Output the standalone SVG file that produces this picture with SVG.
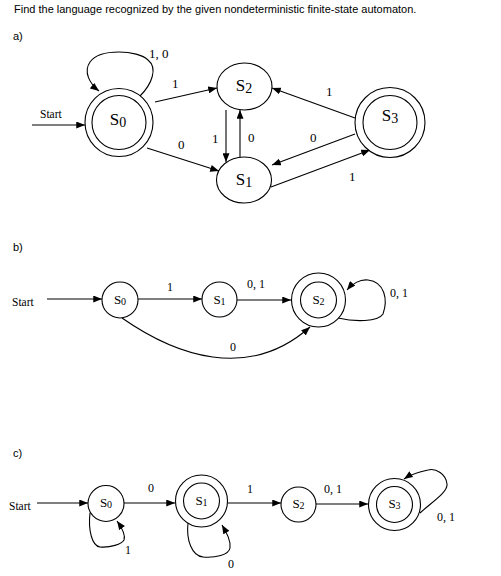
<svg xmlns="http://www.w3.org/2000/svg" width="501" height="576" viewBox="0 0 501 576">
<style>
.h{font-family:"Liberation Sans",Arial,sans-serif;font-size:11px;fill:#000}
.t{font-family:"Liberation Serif","Times New Roman",serif;fill:#000}
.la{font-size:17px}
.lb{font-size:13px}
.e{font-size:13px}
.es{font-size:12px}
.st{font-size:11.5px}
.n{fill:#fff;stroke:#000;stroke-width:1.1}
.c{fill:none;stroke:#000;stroke-width:1.1}
</style>
<defs>
<marker id="ar" viewBox="0 0 10 8" refX="10" refY="4" markerWidth="9" markerHeight="7" markerUnits="userSpaceOnUse" orient="auto">
<path d="M0,0 L10,4 L0,8 z" fill="#000"/>
</marker>
</defs>
<rect width="501" height="576" fill="#fff"/>
<text class="h" x="14" y="13">Find the language recognized by the given nondeterministic finite-state automaton.</text>
<text class="h" x="13" y="40">a)</text>
<text class="h" x="13" y="251">b)</text>
<text class="h" x="13" y="457">c)</text>

<g id="connectors">
<!-- part a -->
<path class="c" d="M32,125 L85,125" marker-end="url(#ar)"/>
<path class="c" d="M140,96 C152,84 158,68 148,60 C138,50 100,48 90,62 C83,72 90,84 99,91" marker-end="url(#ar)"/>
<path class="c" d="M155,102 L217,88" marker-end="url(#ar)"/>
<path class="c" d="M147,148 L219,171" marker-end="url(#ar)"/>
<path class="c" d="M226,110 L226,162" marker-end="url(#ar)"/>
<path class="c" d="M240,157 L240,110" marker-end="url(#ar)"/>
<path class="c" d="M355,118 L272,88" marker-end="url(#ar)"/>
<path class="c" d="M355,134 L272,165" marker-end="url(#ar)"/>
<path class="c" d="M271,187 L370,150" marker-end="url(#ar)"/>
<!-- part b -->
<path class="c" d="M47,299 L102,299" marker-end="url(#ar)"/>
<path class="c" d="M138,299 L202,299" marker-end="url(#ar)"/>
<path class="c" d="M237,300 L291,300" marker-end="url(#ar)"/>
<path class="c" d="M338,318 C355,322 378,322 383,314 C388,300 385,282 368,280 C360,279 352,284 347,290" marker-end="url(#ar)"/>
<path class="c" d="M122,318 C175,355 248,382 310,327" marker-end="url(#ar)"/>
<!-- part c -->
<path class="c" d="M37,503 L88,503" marker-end="url(#ar)"/>
<path class="c" d="M90,513 C88,530 92,546 100,547 C110,548 122,544 124,540 C126,535 122,528 117,521" marker-end="url(#ar)"/>
<path class="c" d="M124,503 L175,503" marker-end="url(#ar)"/>
<path class="c" d="M188,523 C186,540 192,556 203,557 C215,558 229,555 230,548 C231,540 226,532 222,525" marker-end="url(#ar)"/>
<path class="c" d="M228,503 L281,503" marker-end="url(#ar)"/>
<path class="c" d="M316,504 L368,504" marker-end="url(#ar)"/>
<path class="c" d="M420,513 C432,502 448,492 447,484 C446,474 436,468 428,470 C418,472 410,475 404,479" marker-end="url(#ar)"/>
</g>

<g id="edge-labels">
<text class="t st" x="40" y="118">Start</text>
<text class="t e" x="149" y="58">1, 0</text>
<text class="t e" x="172" y="88">1</text>
<text class="t e" x="178" y="149">0</text>
<text class="t e" x="212" y="143">1</text>
<text class="t e" x="248" y="142">0</text>
<text class="t e" x="326" y="96">1</text>
<text class="t e" x="310" y="142">0</text>
<text class="t e" x="349" y="181">1</text>

<text class="t st" x="12" y="306">Start</text>
<text class="t es" x="167" y="291">1</text>
<text class="t es" x="247" y="288">0, 1</text>
<text class="t es" x="390" y="297">0, 1</text>
<text class="t es" x="230" y="351">0</text>

<text class="t st" x="9" y="510">Start</text>
<text class="t es" x="125" y="554">1</text>
<text class="t es" x="148" y="492">0</text>
<text class="t es" x="228" y="568">0</text>
<text class="t es" x="247" y="493">1</text>
<text class="t es" x="324" y="493">0, 1</text>
<text class="t es" x="437" y="521">0, 1</text>
</g>

<g id="a-s0">
<circle class="n" cx="119" cy="122.5" r="34"/>
<circle class="n" cx="119" cy="122.5" r="27"/>
<text class="t la" x="118" y="125" text-anchor="middle">S<tspan font-size="14" dy="2">0</tspan></text>
</g>
<g id="a-s2">
<ellipse class="n" cx="244.5" cy="86.5" rx="27.5" ry="23.5"/>
<text class="t la" x="244" y="91" text-anchor="middle">S<tspan font-size="14" dy="2">2</tspan></text>
</g>
<g id="a-s1">
<ellipse class="n" cx="244" cy="180" rx="27.5" ry="23"/>
<text class="t la" x="244" y="185" text-anchor="middle">S<tspan font-size="14" dy="2">1</tspan></text>
</g>
<g id="a-s3">
<circle class="n" cx="390" cy="122.5" r="35"/>
<circle class="n" cx="390" cy="122.5" r="27"/>
<text class="t la" x="390" y="121" text-anchor="middle">S<tspan font-size="14" dy="2">3</tspan></text>
</g>

<g id="b-s0">
<circle class="n" cx="120" cy="300" r="18"/>
<text class="t lb" x="120" y="304" text-anchor="middle">S<tspan font-size="10" dy="1">0</tspan></text>
</g>
<g id="b-s1">
<circle class="n" cx="219.5" cy="299.5" r="17.5"/>
<text class="t lb" x="219.5" y="304" text-anchor="middle">S<tspan font-size="10" dy="1">1</tspan></text>
</g>
<g id="b-s2">
<circle class="n" cx="318.5" cy="300" r="27"/>
<circle class="n" cx="318.5" cy="300" r="18"/>
<text class="t lb" x="318.5" y="304" text-anchor="middle">S<tspan font-size="10" dy="1">2</tspan></text>
</g>

<g id="c-s0">
<circle class="n" cx="106" cy="503.5" r="18"/>
<text class="t lb" x="106" y="507" text-anchor="middle">S<tspan font-size="10" dy="1">0</tspan></text>
</g>
<g id="c-s1">
<circle class="n" cx="201.5" cy="501" r="26"/>
<circle class="n" cx="201.5" cy="501" r="18"/>
<text class="t lb" x="201.5" y="505" text-anchor="middle">S<tspan font-size="10" dy="1">1</tspan></text>
</g>
<g id="c-s2">
<circle class="n" cx="298.5" cy="504.5" r="17.5"/>
<text class="t lb" x="298.5" y="508" text-anchor="middle">S<tspan font-size="10" dy="1">2</tspan></text>
</g>
<g id="c-s3">
<circle class="n" cx="394.5" cy="504.5" r="26"/>
<circle class="n" cx="394.5" cy="504.5" r="18"/>
<text class="t lb" x="394.5" y="508" text-anchor="middle">S<tspan font-size="10" dy="1">3</tspan></text>
</g>
</svg>
